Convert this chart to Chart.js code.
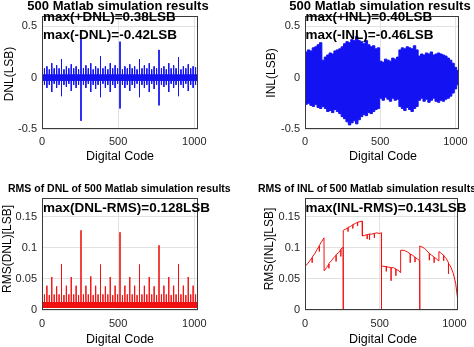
<!DOCTYPE html>
<html>
<head>
<meta charset="utf-8">
<title>DNL / INL of 500 Matlab simulation results</title>
<script src="https://cdn.jsdelivr.net/npm/chart.js@4.4.0/dist/chart.umd.min.js"></script>
<style>
  html, body { margin: 0; padding: 0; background: #fff; }
  #page { position: relative; width: 474px; height: 347px; overflow: hidden;
          font-family: "Liberation Sans", Arial, sans-serif; color: #000; }
  #page canvas { position: absolute; left: 0; top: 0; }
  .txt { position: absolute; white-space: nowrap; line-height: 1; }
  .title { font-weight: bold; font-size: 13px; transform: translateX(-50%); }
  .subtitle { font-weight: bold; font-size: 10.5px; }
  .note { font-weight: bold; font-size: 13.5px; }
  .xlab { font-size: 12.5px; transform: translate(-50%, -50%); }
  .ylab { font-size: 12px; transform: translate(-50%, -50%) rotate(-90deg); }
</style>
</head>
<body>
<div id="page">
  <canvas id="dnlChart" width="474" height="347"></canvas>
  <canvas id="inlChart" width="474" height="347"></canvas>
  <canvas id="dnlRmsChart" width="474" height="347"></canvas>
  <canvas id="inlRmsChart" width="474" height="347"></canvas>

  <div class="txt title" style="left:118px; top:-1px;">500 Matlab simulation results</div>
  <div class="txt title" style="left:380px; top:-1px;">500 Matlab simulation results</div>
  <div class="txt note" style="left:43px; top:9.6px;">max(+DNL)=0.38LSB</div>
  <div class="txt note" style="left:43px; top:28px;">max(-DNL)=-0.42LSB</div>
  <div class="txt note" style="left:305.5px; top:9.6px;">max(+INL)=0.40LSB</div>
  <div class="txt note" style="left:305.5px; top:28px;">max(-INL)=-0.46LSB</div>

  <div class="txt subtitle" style="left:8px; top:183px;">RMS of DNL of 500 Matlab simulation results</div>
  <div class="txt subtitle" style="left:258px; top:183px;">RMS of INL of 500 Matlab simulation results</div>
  <div class="txt note" style="left:43px; top:200.6px;">max(DNL-RMS)=0.128LSB</div>
  <div class="txt note" style="left:305.5px; top:200.6px;">max(INL-RMS)=0.143LSB</div>

  <div class="txt xlab" style="left:120px; top:156px;">Digital Code</div>
  <div class="txt xlab" style="left:383px; top:156px;">Digital Code</div>
  <div class="txt xlab" style="left:120px; top:339px;">Digital Code</div>
  <div class="txt xlab" style="left:383px; top:339px;">Digital Code</div>

  <div class="txt ylab" style="left:8.5px; top:73.5px;">DNL(LSB)</div>
  <div class="txt ylab" style="left:271px; top:72.5px;">INL(LSB)</div>
  <div class="txt ylab" style="left:6.5px; top:249px;">RMS(DNL)[LSB]</div>
  <div class="txt ylab" style="left:269px; top:249px;">RMS(INL)[LSB]</div>
</div>

<script>
// tick labels
const codeTicks = [0, 500, 1000];
const errTicks = [-0.5, 0, 0.5];
const rmsTicks = [0, 0.05, 0.1, 0.15];

// DNL: spike codes (every 16 codes) and the extremes over 500 runs
const dnlCodes = [0, 16, 32, 48, 64, 80, 96, 112, 128, 144, 160, 176, 192, 208, 224, 240,
  256, 272, 288, 304, 320, 336, 352, 368, 384, 400, 416, 432, 448, 464, 480, 496,
  512, 528, 544, 560, 576, 592, 608, 624, 640, 656, 672, 688, 704, 720, 736, 752,
  768, 784, 800, 816, 832, 848, 864, 880, 896, 912, 928, 944, 960, 976, 992, 1008];
const dnlHigh = [0.22, 0.09, 0.11, 0.08, 0.14, 0.09, 0.12, 0.09, 0.18, 0.08, 0.11, 0.09, 0.13, 0.09, 0.11, 0.08,
  0.38, 0.09, 0.12, 0.09, 0.14, 0.08, 0.11, 0.09, 0.21, 0.09, 0.11, 0.08, 0.14, 0.09, 0.12, 0.09,
  0.35, 0.08, 0.11, 0.09, 0.13, 0.09, 0.11, 0.08, 0.18, 0.09, 0.12, 0.09, 0.14, 0.08, 0.11, 0.09,
  0.27, 0.09, 0.11, 0.08, 0.14, 0.09, 0.12, 0.09, 0.20, 0.08, 0.11, 0.09, 0.13, 0.09, 0.11, 0.10];
const dnlLow = [-0.24, -0.07, -0.10, -0.07, -0.14, -0.06, -0.10, -0.07, -0.18, -0.07, -0.09, -0.06, -0.13, -0.07, -0.10, -0.07,
  -0.42, -0.07, -0.10, -0.06, -0.14, -0.07, -0.11, -0.07, -0.19, -0.06, -0.10, -0.07, -0.14, -0.07, -0.10, -0.06,
  -0.30, -0.07, -0.10, -0.07, -0.13, -0.07, -0.10, -0.06, -0.19, -0.07, -0.10, -0.07, -0.14, -0.06, -0.11, -0.07,
  -0.27, -0.07, -0.09, -0.07, -0.14, -0.06, -0.10, -0.07, -0.18, -0.07, -0.10, -0.06, -0.13, -0.07, -0.10, -0.07];
const dnlBand = [-0.027, 0.027];

// INL: upper / lower envelope of the 500 curves
const inlCodes = [0, 16, 32, 48, 64, 80, 96, 112, 128, 144, 160, 176, 192, 208, 224, 240,
  256, 272, 288, 304, 320, 336, 352, 368, 384, 400, 416, 432, 448, 464, 480, 496,
  512, 528, 544, 560, 576, 592, 608, 624, 640, 656, 672, 688, 704, 720, 736, 752,
  768, 784, 800, 816, 832, 848, 864, 880, 896, 912, 928, 944, 960, 976, 992, 1008, 1024];
const inlUpper = [0.22, 0.25, 0.27, 0.26, 0.29, 0.30, 0.32, 0.34, 0.17, 0.20, 0.22, 0.24, 0.23, 0.26, 0.27, 0.28,
  0.30, 0.33, 0.35, 0.34, 0.37, 0.36, 0.40, 0.36, 0.35, 0.33, 0.36, 0.32, 0.30, 0.31, 0.28, 0.29,
  0.16, 0.15, 0.18, 0.17, 0.16, 0.19, 0.18, 0.20, 0.27, 0.29, 0.28, 0.30, 0.29, 0.28, 0.31, 0.27,
  0.21, 0.23, 0.22, 0.24, 0.23, 0.25, 0.22, 0.23, 0.24, 0.23, 0.22, 0.21, 0.19, 0.17, 0.14, 0.10, 0.07];
const inlLower = [-0.24, -0.26, -0.25, -0.27, -0.28, -0.26, -0.29, -0.30, -0.28, -0.30, -0.33, -0.32, -0.34, -0.31, -0.33, -0.35,
  -0.38, -0.40, -0.43, -0.46, -0.44, -0.42, -0.45, -0.41, -0.38, -0.36, -0.37, -0.34, -0.35, -0.33, -0.31, -0.30,
  -0.20, -0.22, -0.19, -0.21, -0.23, -0.20, -0.22, -0.21, -0.28, -0.30, -0.32, -0.29, -0.31, -0.33, -0.30, -0.28,
  -0.22, -0.20, -0.23, -0.21, -0.24, -0.22, -0.20, -0.23, -0.24, -0.22, -0.23, -0.21, -0.20, -0.18, -0.15, -0.11, -0.07];

// RMS of DNL: spike peaks at the same codes, on top of a low floor
const rmsDnlPeak = [0.071, 0.025, 0.039, 0.024, 0.053, 0.025, 0.038, 0.025, 0.074, 0.024, 0.039, 0.025, 0.053, 0.025, 0.039, 0.024,
  0.128, 0.025, 0.039, 0.025, 0.054, 0.024, 0.039, 0.025, 0.073, 0.025, 0.038, 0.025, 0.053, 0.024, 0.039, 0.025,
  0.125, 0.024, 0.039, 0.025, 0.053, 0.025, 0.039, 0.024, 0.073, 0.025, 0.039, 0.025, 0.053, 0.025, 0.038, 0.024,
  0.104, 0.025, 0.039, 0.025, 0.053, 0.024, 0.039, 0.025, 0.074, 0.025, 0.039, 0.024, 0.053, 0.025, 0.039, 0.025];
const rmsDnlFloor = [0.004, 0.012];

// RMS of INL along the code range (repeated codes are drops / dips)
const rmsInlCodes = [0, 16, 32, 48, 48, 48, 64, 80, 96, 96, 96, 112, 127,
  128, 144, 160, 160, 160, 176, 192, 208, 208, 208, 224, 240, 240, 240, 255,
  256, 256, 272, 288, 288, 288, 304, 320, 320, 320, 336, 352, 352, 352, 368, 383,
  384, 400, 416, 416, 416, 432, 432, 432, 448, 464, 464, 464, 480, 496, 511,
  512, 512, 528, 544, 544, 544, 560, 576, 576, 576, 592, 608, 608, 608, 624, 639,
  640, 656, 672, 688, 704, 704, 704, 720, 736, 736, 736, 752, 767,
  768, 768, 784, 800, 816, 832, 832, 832, 848, 864, 864, 864, 880, 895,
  896, 912, 928, 928, 928, 944, 960, 960, 960, 976, 992, 1008, 1023];
const rmsInlValues = [0.070, 0.074, 0.079, 0.084, 0.076, 0.085, 0.090, 0.097, 0.103, 0.094, 0.104, 0.110, 0.116,
  0.063, 0.068, 0.074, 0.067, 0.075, 0.079, 0.084, 0.088, 0.078, 0.089, 0.092, 0.097, 0.086, 0.098, 0.101,
  0, 0.128, 0.130, 0.132, 0.126, 0.133, 0.134, 0.137, 0.131, 0.137, 0.139, 0.141, 0.135, 0.141, 0.142, 0.143,
  0.119, 0.120, 0.121, 0.114, 0.121, 0.122, 0.113, 0.122, 0.122, 0.123, 0.116, 0.123, 0.124, 0.123, 0.124,
  0, 0.071, 0.070, 0.070, 0.062, 0.069, 0.069, 0.068, 0.047, 0.068, 0.068, 0.066, 0.055, 0.065, 0.064, 0.060,
  0.096, 0.096, 0.095, 0.093, 0.090, 0.076, 0.090, 0.088, 0.085, 0.077, 0.085, 0.082, 0.079,
  0, 0.103, 0.101, 0.099, 0.095, 0.091, 0.080, 0.091, 0.088, 0.085, 0.076, 0.085, 0.082, 0.079,
  0.094, 0.091, 0.088, 0.079, 0.087, 0.083, 0.076, 0.058, 0.075, 0.069, 0.059, 0.043, 0.015];

const BLUE = '#1212f2';
const RED = '#f01010';
const PAGE_W = 474, PAGE_H = 347;
const Y_AXIS_W = 30, X_AXIS_H = 20;

// Matlab-style box round the axes
const axesBox = {
  id: 'axesBox',
  afterDraw(chart) {
    const { ctx, chartArea: a } = chart;
    ctx.save();
    ctx.strokeStyle = '#3a3a3a';
    ctx.lineWidth = 1;
    ctx.strokeRect(Math.round(a.left) + 0.5, Math.round(a.top) + 0.5,
                   Math.round(a.width) - 1, Math.round(a.height) - 1);
    ctx.restore();
  }
};

// vertical segments, one per code, broken apart with null points
function spikes(codes, tops, bottoms) {
  const pts = [];
  codes.forEach((c, i) => {
    const lo = Array.isArray(bottoms) ? bottoms[i] : bottoms;
    pts.push({ x: c, y: tops[i] }, { x: c, y: lo }, { x: c, y: null });
  });
  return pts;
}

function flat(y) {
  return [{ x: 0, y: y }, { x: 1023, y: y }];
}

function pairs(xs, ys) {
  return xs.map((x, i) => ({ x: x, y: ys[i] }));
}

function makeChart(canvasId, box, yMin, yMax, yTicks, datasets) {
  const tickFont = { family: '"Liberation Sans", Arial, sans-serif', size: 11 };
  return new Chart(document.getElementById(canvasId), {
    type: 'line',
    data: { datasets: datasets },
    options: {
      responsive: false,
      animation: false,
      events: [],
      layout: {
        padding: {
          left: box.left - Y_AXIS_W,
          right: PAGE_W - box.right,
          top: box.top,
          bottom: PAGE_H - box.bottom - X_AXIS_H
        }
      },
      elements: { point: { radius: 0 }, line: { borderWidth: 1, tension: 0 } },
      plugins: { legend: { display: false }, tooltip: { enabled: false } },
      scales: {
        x: {
          type: 'linear', min: 0, max: 1024,
          afterBuildTicks: s => { s.ticks = codeTicks.map(v => ({ value: v })); },
          afterFit: s => { s.height = X_AXIS_H; },
          ticks: { font: tickFont, color: '#262626', padding: box.xPad, maxRotation: 0,
                   callback: v => String(v) },
          grid: { color: '#e2e2e2', drawTicks: false },
          border: { display: false }
        },
        y: {
          min: yMin, max: yMax,
          afterBuildTicks: s => { s.ticks = yTicks.map(v => ({ value: v })); },
          afterFit: s => { s.width = Y_AXIS_W; },
          ticks: { font: tickFont, color: '#262626', padding: 5, callback: v => String(v) },
          grid: { color: '#e2e2e2', drawTicks: false },
          border: { display: false }
        }
      }
    },
    plugins: [axesBox]
  });
}

// DNL of 500 runs
makeChart('dnlChart', { left: 42, right: 198, top: 16, bottom: 129, xPad: 6 }, -0.5, 0.6, errTicks, [
  { data: flat(dnlBand[1]), borderColor: BLUE, backgroundColor: BLUE, fill: '+1' },
  { data: flat(dnlBand[0]), borderColor: BLUE, fill: false },
  { data: spikes(dnlCodes, dnlHigh, dnlLow), borderColor: BLUE, fill: false, spanGaps: false }
]);

// INL of 500 runs
makeChart('inlChart', { left: 305, right: 461, top: 16, bottom: 129, xPad: 6 }, -0.5, 0.6, errTicks, [
  { data: pairs(inlCodes, inlUpper), borderColor: BLUE, backgroundColor: BLUE, fill: '+1', stepped: 'after' },
  { data: pairs(inlCodes, inlLower), borderColor: BLUE, fill: false, stepped: 'after' }
]);

// RMS of DNL
makeChart('dnlRmsChart', { left: 42, right: 198, top: 198, bottom: 310, xPad: 7 }, 0, 0.18, rmsTicks, [
  { data: flat(rmsDnlFloor[1]), borderColor: RED, backgroundColor: RED, fill: '+1' },
  { data: flat(rmsDnlFloor[0]), borderColor: RED, fill: false },
  { data: spikes(dnlCodes, rmsDnlPeak, rmsDnlFloor[0]), borderColor: 'rgba(240,16,16,0.8)',
    fill: false, spanGaps: false }
]);

// RMS of INL
makeChart('inlRmsChart', { left: 305, right: 461, top: 198, bottom: 310, xPad: 7 }, 0, 0.18, rmsTicks, [
  { data: pairs(rmsInlCodes, rmsInlValues), borderColor: RED, fill: false }
]);
</script>
</body>
</html>
